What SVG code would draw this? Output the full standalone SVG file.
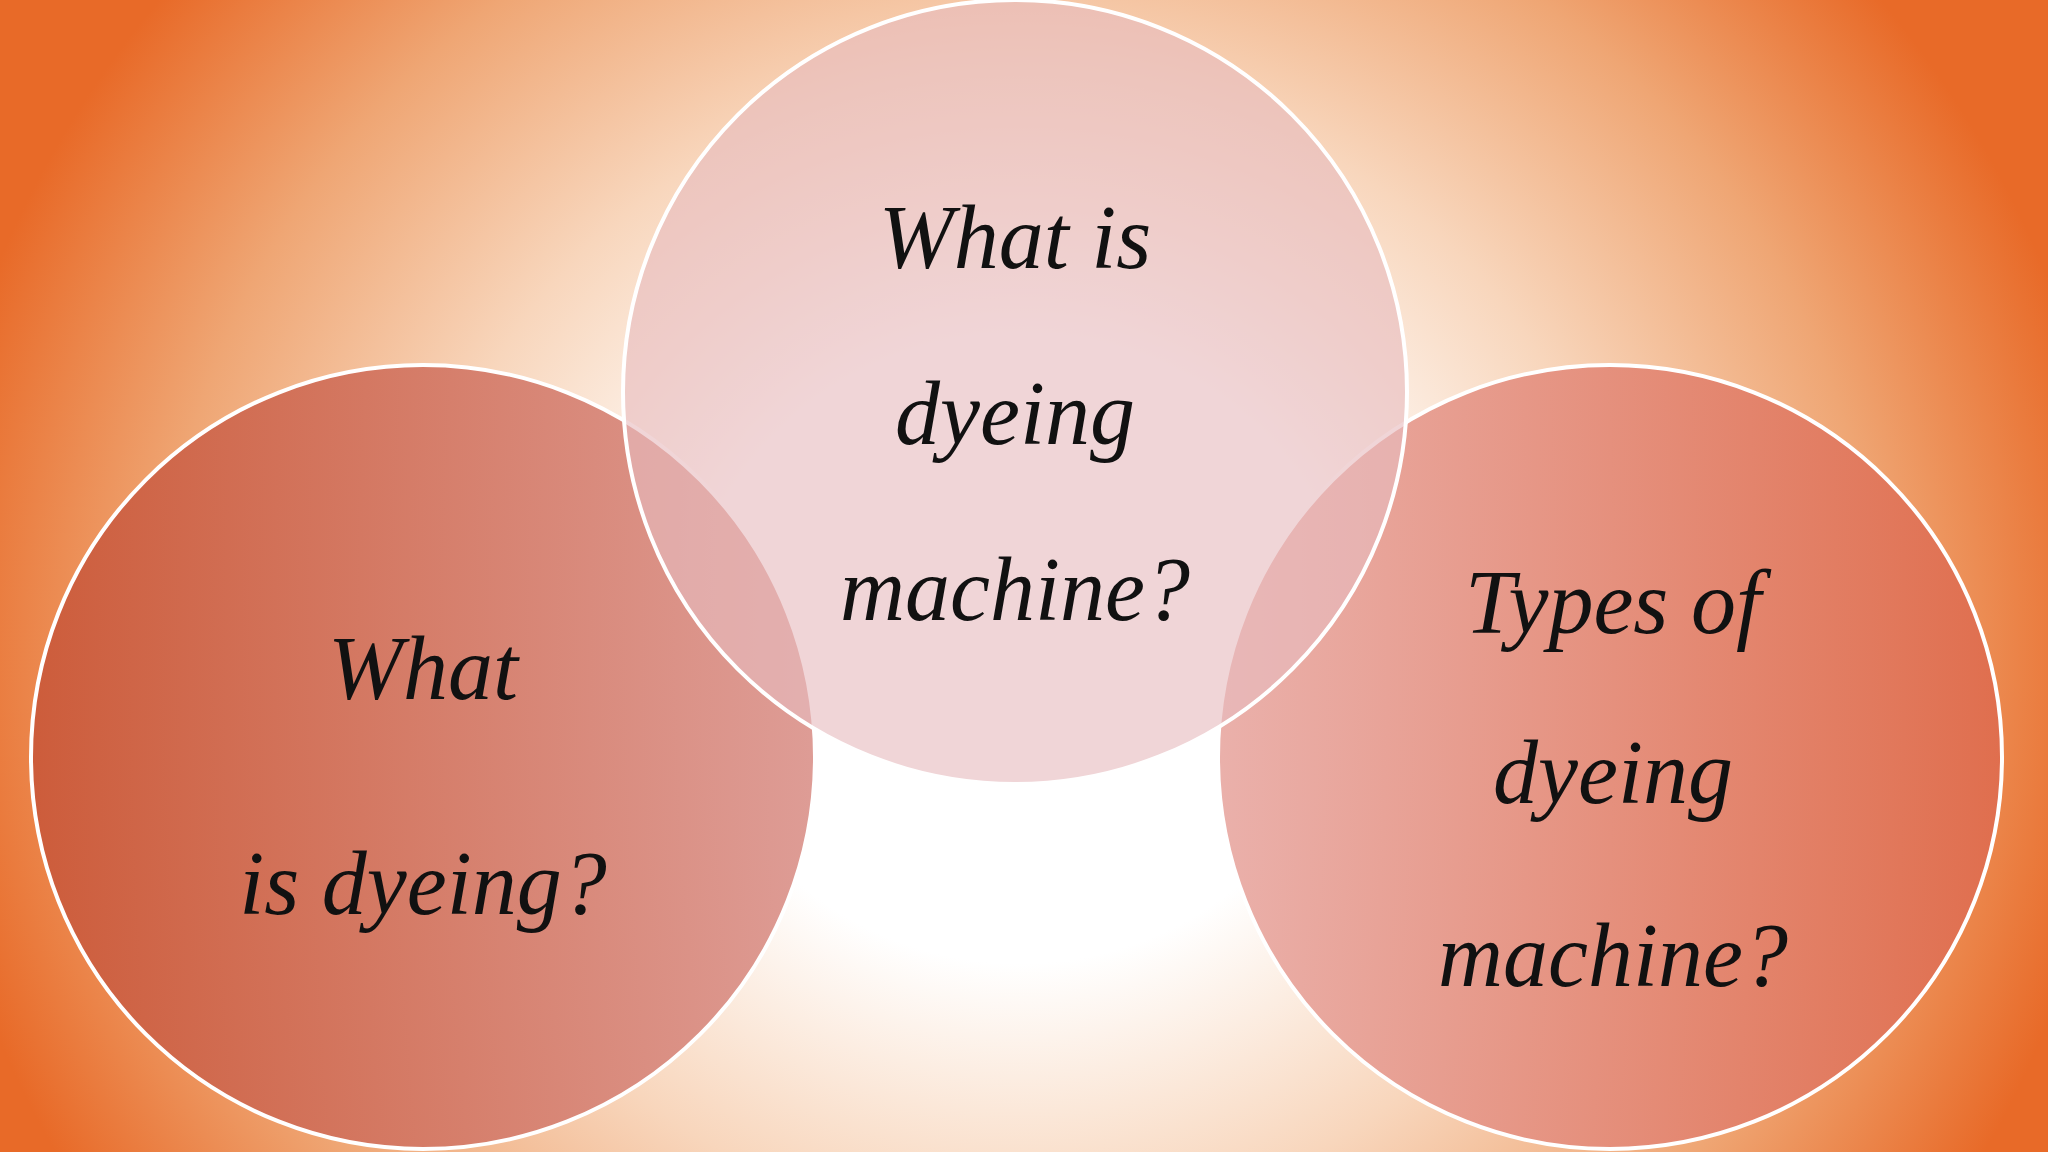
<svg xmlns="http://www.w3.org/2000/svg" width="2048" height="1152" viewBox="0 0 2048 1152">
<defs>
<radialGradient id="bg" cx="1020" cy="650" r="1100" gradientUnits="userSpaceOnUse" gradientTransform="translate(1020 650) scale(1 0.95) translate(-1020 -650)">
<stop offset="0.3" stop-color="#ffffff"/>
<stop offset="0.55" stop-color="#f8d6bc"/>
<stop offset="0.78" stop-color="#efa674"/>
<stop offset="1" stop-color="#e86a28"/>
</radialGradient>
<linearGradient id="gl" x1="0" y1="0" x2="1" y2="0">
<stop offset="0" stop-color="#cb5a3a"/>
<stop offset="1" stop-color="#dc9790"/>
</linearGradient>
<linearGradient id="gr" x1="0" y1="0" x2="1" y2="0">
<stop offset="0" stop-color="#e9aca6"/>
<stop offset="1" stop-color="#df6d4e"/>
</linearGradient>
<style>
.c{stroke:#ffffff;stroke-width:4}
.t{font-family:"Liberation Serif",serif;font-style:italic;font-size:90px;fill:#111;text-anchor:middle}
</style>
</defs>
<rect width="2048" height="1152" fill="url(#bg)"/>
<g id="left"><circle class="c" cx="423" cy="757" r="392" fill="url(#gl)" fill-opacity="0.95"/>
<text class="t" x="423" y="699">What</text><text class="t" x="423" y="914">is dyeing?</text></g>
<g id="right"><circle class="c" cx="1610" cy="757" r="392" fill="url(#gr)" fill-opacity="0.95"/>
<text class="t" x="1613" y="633">Types of</text><text class="t" x="1613" y="803">dyeing</text><text class="t" x="1613" y="986">machine?</text></g>
<g id="top"><circle class="c" cx="1015" cy="392" r="392" fill="#e6bcbf" fill-opacity="0.62"/>
<text class="t" x="1015" y="268">What is</text><text class="t" x="1015" y="444">dyeing</text><text class="t" x="1015" y="620">machine?</text></g>
<g id="connectors"/>
</svg>
